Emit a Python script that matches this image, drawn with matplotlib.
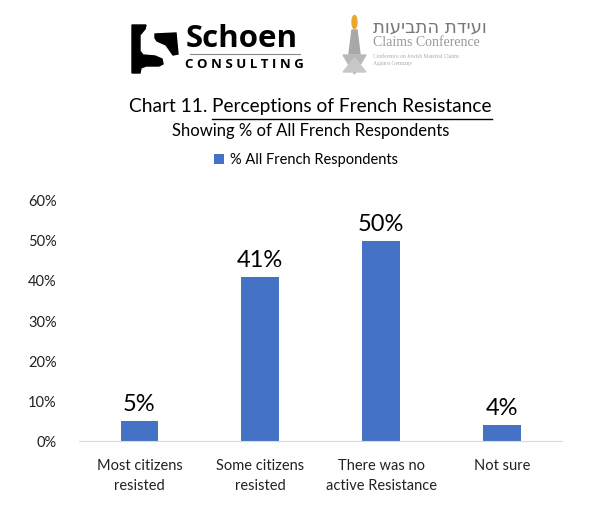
import matplotlib.pyplot as plt
from matplotlib.patches import Polygon, Ellipse

# chart data
categories = ["Most citizens\nresisted", "Some citizens\nresisted",
              "There was no\nactive Resistance", "Not sure"]
values = [5, 41, 50, 4]
y_ticks = [0, 10, 20, 30, 40, 50, 60]
series_name = "% All French Respondents"

bar_color = "#4472C4"
font = ["Lato", "DejaVu Sans"]
plt.rcParams["font.family"] = font

W, H = 600, 505


def px(pts):
    # pixel coords (from top-left) -> figure fraction
    return [[x / W, 1 - y / H] for x, y in pts]


fig = plt.figure(figsize=(6, 5.05), dpi=100)
ax = fig.add_axes([0.1317, 0.1267, 0.8053, 0.4753])

x = range(len(categories))
ax.bar(x, values, width=0.31, color=bar_color, label=series_name, zorder=2)
for xi, v in zip(x, values):
    ax.text(xi, v + 1.5, f"{v}%", ha="center", va="bottom", fontsize=17,
            color="#000000")

ax.set_xlim(-0.5, len(categories) - 0.5)
ax.set_ylim(0, 60)
ax.set_yticks(y_ticks)
ax.set_yticklabels([f"{t}%" for t in y_ticks], fontsize=10.5)
ax.set_xticks(list(x))
ax.set_xticklabels(categories, fontsize=10.5, linespacing=1.5)
ax.tick_params(axis="both", length=0, colors="#222222")
ax.tick_params(axis="y", pad=16)
ax.tick_params(axis="x", pad=13)
for side in ["top", "right", "left"]:
    ax.spines[side].set_visible(False)
ax.spines["bottom"].set_color("#D9D9D9")

# legend
fig.legend(loc="center", bbox_to_anchor=(0.51, 0.683), frameon=False,
           fontsize=10.5, handlelength=0.7, handleheight=0.7, handletextpad=0.4)

# title with underlined part
t1 = fig.text(0.22, 0.79, "Chart 11. ", fontsize=13.8, ha="left", va="center")
t2 = fig.text(0.5, 0.79, "Perceptions of French Resistance", fontsize=13.8,
              ha="left", va="center")
fig.canvas.draw()
r = fig.canvas.get_renderer()
w1 = t1.get_window_extent(r).width / fig.bbox.width
w2 = t2.get_window_extent(r).width / fig.bbox.width
start = 0.517 - (w1 + w2) / 2
t1.set_x(start)
t2.set_x(start + w1)
fig.add_artist(plt.Line2D([start + w1, start + w1 + w2], [0.765, 0.765],
                          transform=fig.transFigure, color="black", lw=1))
fig.text(0.517, 0.741, "Showing % of All French Respondents", fontsize=12,
         ha="center", va="center")

# Schoen Consulting logo
fig.add_artist(Polygon(px([(132, 25), (146, 25), (145, 29), (140, 35),
                           (140, 51), (143, 55), (155, 56), (162, 59),
                           (163, 64), (159, 66), (146, 66), (141, 68),
                           (140, 73), (132, 73)]),
                       closed=True, transform=fig.transFigure, color="black"))
fig.add_artist(Polygon(px([(155, 34), (176, 33), (178, 54), (173, 55),
                           (166, 45), (157, 41), (155, 38)]),
                       closed=True, transform=fig.transFigure, color="black"))
fig.text(186 / W, 1 - 39 / H, "Schoen", fontsize=22.5, fontweight="bold",
         ha="left", va="center", family=["Open Sans", "DejaVu Sans"])
fig.add_artist(plt.Line2D([190 / W, 300 / W], [1 - 54 / H, 1 - 54 / H],
                          transform=fig.transFigure, color="#888888", lw=0.8))
fig.text(244 / W, 1 - 64 / H, "C O N S U L T I N G", fontsize=9.5,
         fontweight="bold", ha="center", va="center",
         family=["Open Sans", "DejaVu Sans"])

# Claims Conference logo
fig.add_artist(Ellipse((354.5 / W, 1 - 22 / H), 5 / W, 13 / H,
                       transform=fig.transFigure, color="#E8A82E"))
fig.add_artist(Polygon(px([(352, 30), (357, 30), (360, 54), (349, 54)]),
                       transform=fig.transFigure, color="#A8A8A8"))
fig.add_artist(Polygon(px([(343, 55), (366, 55), (354.5, 74)]),
                       transform=fig.transFigure, color="#B8B8B8"))
fig.add_artist(Polygon(px([(343, 72), (366, 72), (354.5, 58)]),
                       transform=fig.transFigure, color="#C8C8C8"))
fig.text(373 / W, 1 - 27 / H, "ועידת התביעות"[::-1], fontsize=13,
         color="#777777", ha="left", va="center",
         family=["DejaVu Serif", "DejaVu Sans"])
fig.text(373 / W, 1 - 43 / H, "Claims Conference", fontsize=10,
         color="#999999", ha="left", va="center",
         family=["Liberation Serif", "DejaVu Serif"])
fig.text(373 / W, 1 - 56 / H, "Conference on Jewish Material Claims",
         fontsize=4, color="#AAAAAA", ha="left", va="center",
         family=["Liberation Serif"])
fig.text(373 / W, 1 - 63 / H, "Against Germany", fontsize=4, color="#AAAAAA",
         ha="left", va="center", family=["Liberation Serif"])

fig.savefig("out.png", dpi=100, facecolor="white")
